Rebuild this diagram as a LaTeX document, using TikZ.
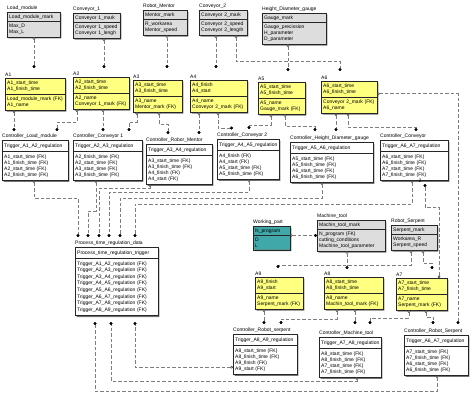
\documentclass[tikz,border=0pt]{standalone}
\usepackage{fontspec}
\setmainfont{Liberation Sans}
\usetikzlibrary{arrows.meta,shapes.multipart,shadows}
\definecolor{erwinyellow}{RGB}{255,255,128}
\definecolor{erwingray}{RGB}{221,221,221}
\definecolor{erwinteal}{RGB}{64,168,168}
\definecolor{linegray}{RGB}{125,125,125}

\begin{document}
\begin{tikzpicture}[
  x=1pt, y=-1pt,
  every node/.style={font=\fontsize{5}{6}\selectfont},
  ent/.style={rectangle split, rectangle split parts=2, draw=black!85, line width=0.4pt,
    anchor=north west, align=left, inner xsep=2pt, inner ysep=2.5pt, text width=#1,
    drop shadow={shadow xshift=1.5pt, shadow yshift=-1.5pt, fill=black!55, opacity=1}},
  grayent/.style={ent=#1, fill=erwingray, inner ysep=2.2pt},
  yelent/.style={ent=#1, fill=erwinyellow},
  ctlent/.style={ent=#1, fill=white, inner ysep=3pt},
  tealent/.style={ent=#1, fill=erwinteal, inner ysep=2.2pt},
  ttl/.style={anchor=south west, inner xsep=0pt, inner ysep=1pt},
  rel/.style={draw=linegray, dash pattern=on 3.5pt off 2pt, line width=0.5pt,
    {Circle[open, length=2.6pt, width=2.6pt, color=black!75, fill=white]}-{Circle[length=3pt, width=3pt, color=black]}},
]
\useasboundingbox (0,0) rectangle (474,408);

% ---- top row: resources ----
\node[grayent=48.6pt] (load)   at (7,12)   {Load\_module\_mark\nodepart{two}Max\_D\\Max\_L};
\node[grayent=42.6pt] (conv1)  at (73,13)  {Conveyor 1\_mark\nodepart{two}Conveyor 1\_speed\\Conveyor 1\_lengh};
\node[grayent=39.6pt] (mentor) at (143,10) {Mentor\_mark\nodepart{two}R\_workarea\\Mentor\_speed};
\node[grayent=43.6pt] (conv2)  at (199,10) {Conveyor 2\_mark\nodepart{two}Conveyor 2\_speed\\Conveyor 2\_length};
\node[grayent=59.6pt] (gauge)  at (262,13) {Gauge\_mark\nodepart{two}Gauge\_precission\\H\_parameter\\D\_parameter};
\node[ttl] (load-t)   at (load.north west)   {Load\_module};
\node[ttl] (conv1-t)  at (conv1.north west)  {Conveyor\_1};
\node[ttl] (mentor-t) at (mentor.north west) {Robot\_Mentor};
\node[ttl] (conv2-t)  at (conv2.north west)  {Conveyor\_2};
\node[ttl] (gauge-t)  at (gauge.north west)  {Height\_Diameter\_gauge};

% ---- operations A1..A6 ----
\node[yelent=55.6pt] (a1) at (5,78)   {A1\_start\_time\\A1\_finish\_time\nodepart{two}Load\_module\_mark (FK)\\A1\_name};
\node[yelent=51.6pt] (a2) at (73,77)  {A2\_start\_time\\A2\_finish\_time\nodepart{two}A2\_name\\Conveyor 1\_mark (FK)};
\node[yelent=44.6pt] (a3) at (133,80) {A3\_start\_time\\A3\_finish\_time\nodepart{two}A3\_name\\Mentor\_mark (FK)};
\node[yelent=52.6pt] (a4) at (190,80) {A4\_finish\\A4\_start\nodepart{two}A4\_name\\Conveyor 2\_mark (FK)};
\node[yelent=42.6pt] (a5) at (258,82) {A5\_start\_time\\A5\_finish\_time\nodepart{two}A5\_name\\Gauge\_mark (FK)};
\node[yelent=51.6pt] (a6) at (321,81) {A6\_start\_time\\A6\_finish\_time\nodepart{two}Conveyor 2\_mark (FK)\\A6\_name};
\node[ttl] (a1-t) at (a1.north west) {A1};
\node[ttl] (a2-t) at (a2.north west) {A2};
\node[ttl] (a3-t) at (a3.north west) {A3};
\node[ttl] (a4-t) at (a4.north west) {A4};
\node[ttl] (a5-t) at (a5.north west) {A5};
\node[ttl] (a6-t) at (a6.north west) {A6};

% ---- controllers, upper row ----
\node[ctlent=61.6pt] (cload)   at (2,140)   {Trigger\_A1\_A2\_regulation\nodepart{two}A1\_start\_time (FK)\\A1\_finish\_time (FK)\\A2\_start\_time (FK)\\A2\_finish\_time (FK)};
\node[ctlent=64.6pt] (cconv1)  at (73,140)  {Trigger\_A2\_A3\_regulation\nodepart{two}A2\_finish\_time (FK)\\A2\_start\_time (FK)\\A3\_start\_time (FK)\\A3\_finish\_time (FK)};
\node[ctlent=61.6pt] (cmentor) at (146,144) {Trigger\_A3\_A4\_regulation\nodepart{two}A3\_start\_time (FK)\\A3\_finish\_time (FK)\\A4\_finish (FK)\\A4\_start (FK)};
\node[ctlent=57.6pt] (cconv2)  at (217,139) {Trigger\_A4\_A5\_regulation\nodepart{two}A4\_finish (FK)\\A4\_start (FK)\\A5\_start\_time (FK)\\A5\_finish\_time (FK)};
\node[ctlent=78.6pt] (cgauge)  at (290,142) {Trigger\_A5\_A6\_regulation\nodepart{two}A5\_start\_time (FK)\\A5\_finish\_time (FK)\\A6\_start\_time (FK)\\A6\_finish\_time (FK)};
\node[ctlent=63.6pt] (cconv)   at (380,140) {Trigger\_A6\_A7\_regulation\nodepart{two}A6\_start\_time (FK)\\A6\_finish\_time (FK)\\A7\_start\_time (FK)\\A7\_finish\_time (FK)};
\node[ttl] (cload-t)   at (cload.north west)   {Controller\_Load\_module};
\node[ttl] (cconv1-t)  at (cconv1.north west)  {Controller\_Conveyor 1};
\node[ttl] (cmentor-t) at (cmentor.north west) {Controller\_Robor\_Mentor};
\node[ttl] (cconv2-t)  at (cconv2.north west)  {Controller\_Conveyor 2};
\node[ttl] (cgauge-t)  at (cgauge.north west)  {Controller\_Height\_Diameter\_gauge};
\node[ttl] (cconv-t)   at (cconv.north west)   {Controller\_Conveyor};

% ---- regulation data ----
\node[ctlent=78.6pt, font=\fontsize{5}{6.6}\selectfont] (proc) at (75,247) {Process\_time\_regulation\_trigger\nodepart{two}Trigger\_A1\_A2\_regulation (FK)\\Trigger\_A2\_A3\_regulation (FK)\\Trigger\_A3\_A4\_regulation (FK)\\Trigger\_A4\_A5\_regulation (FK)\\Trigger\_A5\_A6\_regulation (FK)\\Trigger\_A6\_A7\_regulation (FK)\\Trigger\_A7\_A8\_regulation (FK)\\Trigger\_A8\_A9\_regulation (FK)};
\node[ttl] (proc-t) at (proc.north west) {Process\_time\_regulation\_data};

% ---- middle: part, machine, serpent robot ----
\node[tealent=32.6pt] (work)  at (253,226) {N\_program\nodepart{two}D\\L};
\node[grayent=63.6pt] (mtool) at (317,220) {Machin\_tool\_mark\nodepart{two}N\_program (FK)\\cutting\_conditions\\Machine\_tool\_parameter};
\node[grayent=41.6pt] (serp)  at (391,225) {Serpent\_mark\nodepart{two}Workarea\_R\\Serpent\_speed};
\node[ttl] (work-t)  at (work.north west)  {Working\_part};
\node[ttl] (mtool-t) at (mtool.north west) {Machine\_tool};
\node[ttl] (serp-t)  at (serp.north west)  {Robot\_Serpent};

% ---- operations A9, A8, A7 ----
\node[yelent=43.6pt] (a9) at (255,277) {A9\_finish\\A9\_start\nodepart{two}A9\_name\\Serpent\_mark (FK)};
\node[yelent=54.6pt] (a8) at (324,277) {A8\_start\_time\\A8\_finish\_time\nodepart{two}A8\_name\\Machin\_tool\_mark (FK)};
\node[yelent=46.6pt] (a7) at (396,278) {A7\_start\_time\\A7\_finish\_time\nodepart{two}A7\_name\\Serpent\_mark (FK)};
\node[ttl] (a9-t) at (a9.north west) {A9};
\node[ttl] (a8-t) at (a8.north west) {A8};
\node[ttl] (a7-t) at (a7.north west) {A7};

% ---- controllers, lower row ----
\node[ctlent=59.6pt] (crserp) at (233,334) {Trigger\_A8\_A9\_regulation\nodepart{two}A8\_start\_time (FK)\\A8\_finish\_time (FK)\\A9\_finish (FK)\\A9\_start (FK)};
\node[ctlent=57.6pt] (cmtool) at (319,337) {Trigger\_A7\_A8\_regulation\nodepart{two}A8\_start\_time (FK)\\A8\_finish\_time (FK)\\A7\_start\_time (FK)\\A7\_finish\_time (FK)};
\node[ctlent=59.6pt] (crs2)   at (404,335) {Trigger\_A6\_A7\_regulation\nodepart{two}A7\_start\_time (FK)\\A7\_finish\_time (FK)\\A6\_start\_time (FK)\\A6\_finish\_time (FK)};
\node[ttl] (crserp-t) at (crserp.north west) {Controller\_Robot\_serpent};
\node[ttl] (cmtool-t) at (cmtool.north west) {Controller\_Machine\_tool};
\node[ttl] (crs2-t)   at (crs2.north west)   {Controller\_Robot\_Serpent};

% ---- relationship ends ----
\coordinate (p-a1) at (34,68);
\coordinate (p-a2) at (104,68);
\coordinate (p-a3) at (167,68);
\coordinate (p-a4) at (216,68);
\coordinate (p-a5) at (288,71);
\coordinate (p-a6) at (340,71);
\coordinate (p-cload1) at (14,131);
\coordinate (p-cload2) at (57,131);
\coordinate (p-cconv1a) at (103,131);
\coordinate (p-cconv1b) at (129,131);
\coordinate (p-cmentor1) at (168,134);
\coordinate (p-cmentor2) at (199,134);
\coordinate (p-cconv2a) at (233,128);
\coordinate (p-cconv2b) at (249,129);
\coordinate (p-cgauge1) at (315,131);
\coordinate (p-cgauge2) at (336,131);
\coordinate (p-cconva) at (416,131);
\coordinate (p-cconvb) at (425,184);
\coordinate (p-proc1) at (78,237);
\coordinate (p-proc2) at (88,237);
\coordinate (p-proc3) at (99,237);
\coordinate (p-proc4) at (109,237);
\coordinate (p-proc5) at (120,237);
\coordinate (p-proc6) at (135,237);
\coordinate (p-proc7) at (95,322);
\coordinate (p-proc8) at (111,322);
\coordinate (p-proc9) at (135,322);
\coordinate (p-a7) at (432,269);
\coordinate (p-a8) at (347,269);
\coordinate (p-a9) at (278,268);
\coordinate (p-crserp1) at (264,324);
\coordinate (p-crserp2) at (281,324);
\coordinate (p-cmtool1) at (355,324);
\coordinate (p-cmtool2) at (370,324);
\coordinate (p-crs2a) at (433,324);
\coordinate (p-crs2b) at (458,324);

% ---- relationships ----
\draw[rel] (load.south -| p-a1) -- (p-a1);
\draw[rel] (conv1.south -| p-a2) -- (p-a2);
\draw[rel] (mentor.south -| p-a3) -- (p-a3);
\draw[rel] (conv2.south -| p-a4) -- (p-a4);
\draw[rel] ([xshift=37]conv2.south west) |- ([yshift=10]p-a6) -- (p-a6);
\draw[rel] (gauge.south -| p-a5) -- (p-a5);

\draw[rel] (a1.south -| p-cload1) -- (p-cload1);
\draw[rel] ([xshift=4]a2.south west) |- ([yshift=9]p-cload2) -- (p-cload2);
\draw[rel] (a2.south -| p-cconv1a) -- (p-cconv1a);
\draw[rel] ([xshift=4]a3.south west) |- ([yshift=9]p-cconv1b) -- (p-cconv1b);
\draw[rel] ([xshift=26]a3.south west) |- ([yshift=10]p-cmentor1) -- (p-cmentor1);
\draw[rel] (a4.south -| p-cmentor2) -- (p-cmentor2);
\draw[rel] ([xshift=28]a4.south west) |- (p-cconv2a);
\draw[rel] ([xshift=13]a5.south west) |- ([yshift=4]p-cconv2b) -- (p-cconv2b);
\draw[rel] ([xshift=27]a5.south west) |- ([yshift=5]p-cgauge1) -- (p-cgauge1);
\draw[rel] (a6.south -| p-cgauge2) -- (p-cgauge2);
\draw[rel] ([xshift=27]a6.south west) |- ([yshift=4]p-cconva) -- (p-cconva);
\draw[rel] ([yshift=3.5]a6.east) -| (p-crs2b);
\draw[rel] ([xshift=43]a7.north west) |- ([yshift=-23]p-cconvb) -- (p-cconvb);
\node (two) at (420,181) {2};

\draw[rel] ([xshift=32]cload.south west) |- ([yshift=39]p-proc1) -- (p-proc1);
\draw[rel] ([xshift=23]cconv1.south west) |- ([yshift=26]p-proc2) -- (p-proc2);
\draw[rel] ([xshift=4]cmentor.south west) |- ([yshift=49]p-proc3) -- (p-proc3);
\draw[rel] ([xshift=32]cconv2.south west) |- ([yshift=45]p-proc4) -- (p-proc4);
\draw[rel] ([xshift=32]cgauge.south west) |- ([yshift=39]p-proc5) -- (p-proc5);
\draw[rel] ([xshift=32]cconv.south west) |- ([yshift=33]p-proc6) -- (p-proc6);

\draw[rel] ([yshift=2.5]work.east) -- ([yshift=2.5]work.east -| mtool.west);
\draw[rel] (mtool.south -| p-a8) -- (p-a8);
\draw[rel] ([xshift=32]serp.south west) |- ([yshift=6]p-a7) -- (p-a7);
\draw[rel] ([xshift=20]serp.south west) |- ([yshift=3]p-a9) -- (p-a9);

\draw[rel] (a9.south -| p-crserp1) -- (p-crserp1);
\draw[rel] ([xshift=13]a8.south west) |- ([yshift=5]p-crserp2) -- (p-crserp2);
\draw[rel] (a8.south -| p-cmtool1) -- (p-cmtool1);
\draw[rel] ([xshift=13]a7.south west) |- ([yshift=6]p-cmtool2) -- (p-cmtool2);
\draw[rel] ([xshift=30]a7.south west) |- ([yshift=7]p-crs2a) -- (p-crs2a);

\draw[rel] ([yshift=-13]crserp.west) -| (p-proc9);
\draw[rel] ([xshift=38]cmtool.south west) |- ([yshift=-59]p-proc8) -- (p-proc8);
\draw[rel] ([xshift=33]crs2.south west) |- ([yshift=-69]p-proc7) -- (p-proc7);

\end{tikzpicture}
\end{document}
